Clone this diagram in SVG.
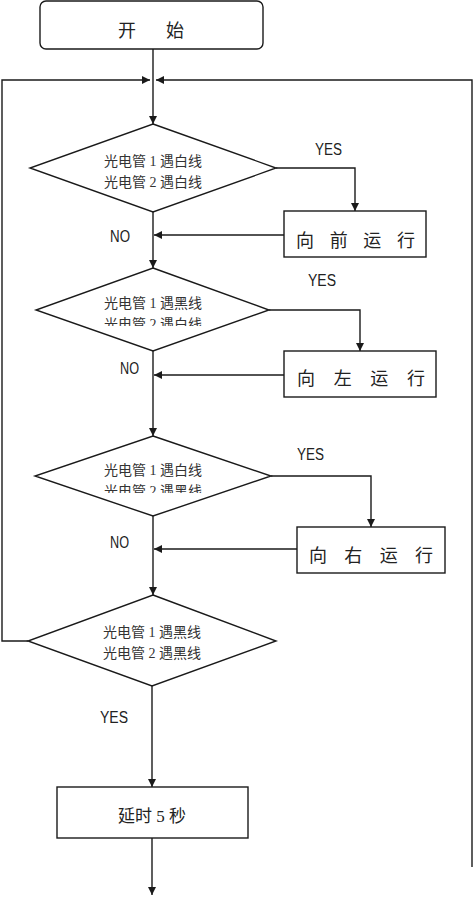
<svg xmlns="http://www.w3.org/2000/svg" width="474" height="897" viewBox="0 0 474 897">
<style>
.ln{fill:none;stroke:#1a1a1a;stroke-width:1.4}
.shape{fill:#fff;stroke:#1a1a1a;stroke-width:1.4}
.cj{font-family:"Liberation Serif","Noto Sans CJK SC",serif;fill:#222}
.dt{font-size:14px;text-anchor:middle;fill:#333}
.bt{font-size:18px}
.lb{font-family:"Liberation Sans","DejaVu Sans",sans-serif;font-size:16px;fill:#222}
</style>
<defs>
<marker id="ah" viewBox="0 0 10 10" refX="10" refY="5" markerWidth="8" markerHeight="8" markerUnits="userSpaceOnUse" orient="auto">
<path d="M0,0 L10,5 L0,10 z" fill="#1a1a1a"/>
</marker>
<clipPath id="c2"><rect x="0" y="280" width="474" height="46"/></clipPath>
<clipPath id="c3"><rect x="0" y="450" width="474" height="43"/></clipPath>
</defs>
<rect width="474" height="897" fill="#fff"/>
<g id="connectors">
<path class="ln" d="M153,49 V124" marker-end="url(#ah)"/>
<path class="ln" d="M28,641 H2 V80 H150" marker-end="url(#ah)"/>
<path class="ln" d="M472,867 V80 H156" marker-end="url(#ah)" stroke="#555" stroke-width="1.8"/>
<path class="ln" d="M276,168 H355 V211" marker-end="url(#ah)"/>
<path class="ln" d="M284,235 H154" marker-end="url(#ah)"/>
<path class="ln" d="M153,212 V268" marker-end="url(#ah)"/>
<path class="ln" d="M269,310 H360 V351" marker-end="url(#ah)"/>
<path class="ln" d="M284,375 H154" marker-end="url(#ah)"/>
<path class="ln" d="M153,351 V436" marker-end="url(#ah)"/>
<path class="ln" d="M271,476 H371 V527" marker-end="url(#ah)"/>
<path class="ln" d="M297,549 H154" marker-end="url(#ah)"/>
<path class="ln" d="M153,516 V595" marker-end="url(#ah)"/>
<path class="ln" d="M152,686 V787" marker-end="url(#ah)"/>
<path class="ln" d="M152,838 V895" marker-end="url(#ah)"/>
<text class="lb" x="315" y="155" textLength="27" lengthAdjust="spacingAndGlyphs">YES</text>
<text class="lb" x="110" y="242" textLength="20" lengthAdjust="spacingAndGlyphs">NO</text>
<text class="lb" x="308" y="286" textLength="28" lengthAdjust="spacingAndGlyphs">YES</text>
<text class="lb" x="120" y="374" textLength="19" lengthAdjust="spacingAndGlyphs">NO</text>
<text class="lb" x="297" y="460" textLength="27" lengthAdjust="spacingAndGlyphs">YES</text>
<text class="lb" x="110" y="548" textLength="19" lengthAdjust="spacingAndGlyphs">NO</text>
<text class="lb" x="100" y="723" textLength="28" lengthAdjust="spacingAndGlyphs">YES</text>
</g>
<g id="start">
<rect class="shape" x="40" y="1" width="223" height="48" rx="6"/>
<text class="cj bt" x="118" y="37" textLength="66" lengthAdjust="spacing">开始</text>
</g>
<g id="d1">
<polygon class="shape" points="153,124 276,168 153,212 30,168"/>
<text class="cj dt" x="153" y="166">光电管 1 遇白线</text>
<text class="cj dt" x="153" y="187">光电管 2 遇白线</text>
</g>
<g id="b1">
<rect class="shape" x="284" y="211" width="142" height="46"/>
<text class="cj bt" x="296" y="247" textLength="119" lengthAdjust="spacing">向前运行</text>
</g>
<g id="d2">
<polygon class="shape" points="153,268 269,310 153,351 36,310"/>
<text class="cj dt" x="153" y="308">光电管 1 遇黑线</text>
<text class="cj dt" x="153" y="329" clip-path="url(#c2)">光电管 2 遇白线</text>
</g>
<g id="b2">
<rect class="shape" x="284" y="351" width="152" height="46"/>
<text class="cj bt" x="297" y="385" textLength="128" lengthAdjust="spacing">向左运行</text>
</g>
<g id="d3">
<polygon class="shape" points="153,436 271,476 153,516 35,476"/>
<text class="cj dt" x="153" y="475">光电管 1 遇白线</text>
<text class="cj dt" x="153" y="496" clip-path="url(#c3)">光电管 2 遇黑线</text>
</g>
<g id="b3">
<rect class="shape" x="297" y="527" width="148" height="46"/>
<text class="cj bt" x="309" y="562" textLength="124" lengthAdjust="spacing">向右运行</text>
</g>
<g id="d4">
<polygon class="shape" points="153,595 276,641 152,686 28,641"/>
<text class="cj dt" x="152" y="637">光电管 1 遇黑线</text>
<text class="cj dt" x="152" y="658">光电管 2 遇黑线</text>
</g>
<g id="delay">
<rect class="shape" x="57" y="787" width="191" height="51"/>
<text class="cj" x="152" y="822" font-size="17" text-anchor="middle">延时 5 秒</text>
</g>
</svg>
